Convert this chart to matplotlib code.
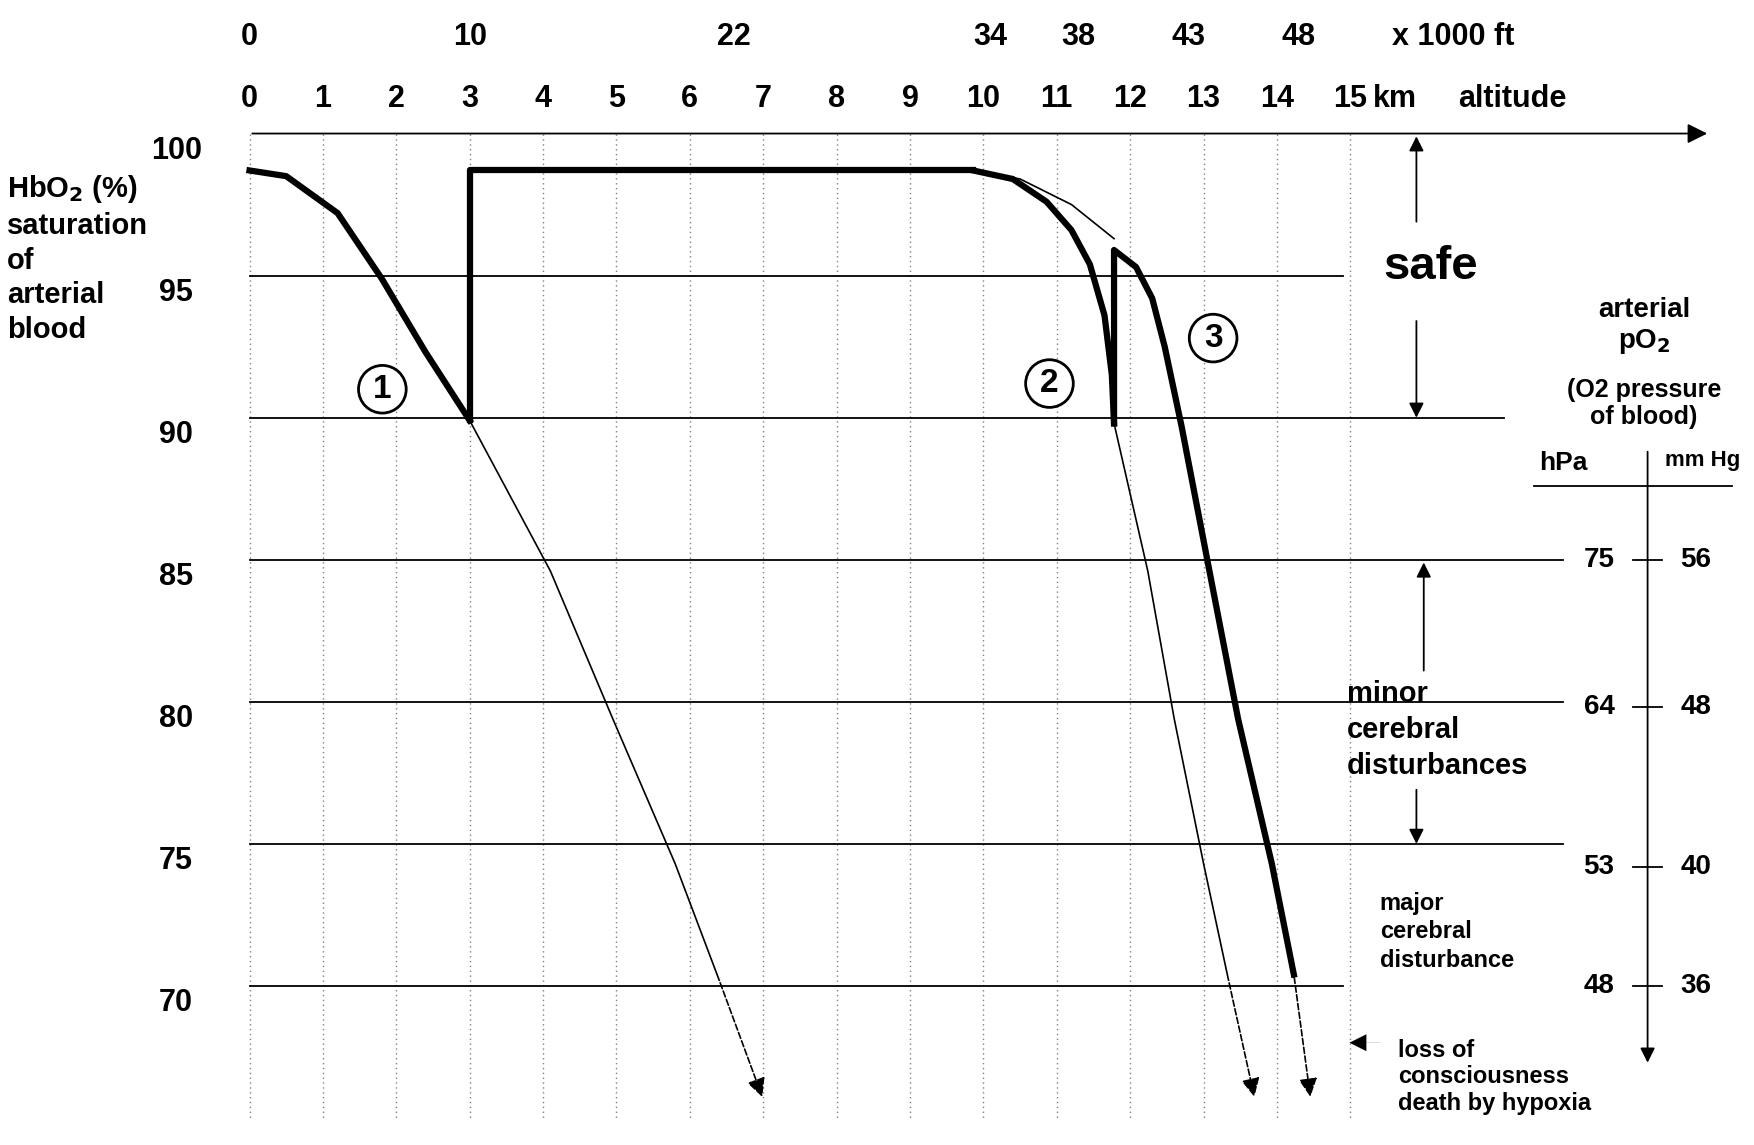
import matplotlib
matplotlib.use("Agg")
import matplotlib.pyplot as plt
import numpy as np

plt.rcParams['font.family'] = ['Liberation Sans', 'DejaVu Sans']
plt.rcParams['font.weight'] = 'bold'

km_ticks = list(range(16))
ft_pos = [0, 3, 6.6, 10.1, 11.3, 12.8, 14.3]
ft_labels = ["0", "10", "22", "34", "38", "43", "48"]
y_levels = [100, 95, 90, 85, 80, 75, 70]
hline_ends = [None, 14.9, 17.1, 17.9, 17.9, 17.9, 14.9]
hpa = ["75", "64", "53", "48"]
mmhg = ["56", "48", "40", "36"]
p_levels = [85, 79.8, 74.2, 70.0]

# curves (altitude km, saturation %)
c1_x = [0, 0.5, 1.2, 1.8, 2.4, 3.0]
c1_y = [98.7, 98.5, 97.2, 94.9, 92.3, 89.9]
plat_x = [3.0, 3.0, 9.86]
plat_y = [89.9, 98.7, 98.7]
c2_x = [9.86, 10.4, 10.86, 11.2, 11.45, 11.65, 11.75, 11.78]
c2_y = [98.7, 98.4, 97.6, 96.6, 95.4, 93.6, 91.5, 89.8]
c3_x = [11.78, 11.78, 12.08, 12.3, 12.47, 12.7, 13.08, 13.47, 13.93, 14.23]
c3_y = [89.8, 95.9, 95.3, 94.2, 92.5, 89.7, 84.6, 79.4, 74.3, 70.4]
t1_x = [3.0, 4.1, 4.95, 5.8, 6.4]
t1_y = [89.9, 84.6, 79.4, 74.3, 70.2]
t1d = ([6.4, 7.0], [70.2, 66.0])
t2_x = [9.86, 10.5, 11.2, 11.78]
t2_y = [98.7, 98.4, 97.5, 96.3]
t3_x = [11.78, 12.24, 12.6, 13.0, 13.34]
t3_y = [89.8, 84.6, 79.4, 74.3, 70.2]
t3d = ([13.34, 13.7], [70.2, 66.0])
c3d = ([14.23, 14.46], [70.4, 66.0])

fig = plt.figure(figsize=(17.54, 11.45), dpi=100)
ax = fig.add_axes([0, 0, 1, 1])
ax.set_xlim(-3.4, 20.5)
ax.set_ylim(64.4, 104.7)
ax.axis('off')

for k in km_ticks:
    ax.plot([k, k], [100, 65.3], color='gray', lw=1, ls=(0, (1, 2.5)))
    ax.text(k, 101.2, str(k), ha='center', va='center', fontsize=22)
ax.text(15.6, 101.2, "km", ha='center', va='center', fontsize=22)
ax.text(17.2, 101.2, "altitude", ha='center', va='center', fontsize=22)
for p, l in zip(ft_pos, ft_labels):
    ax.text(p, 103.4, l, ha='center', va='center', fontsize=22)
ax.text(16.4, 103.4, "x 1000 ft", ha='center', va='center', fontsize=22)

ax.annotate("", xy=(19.9, 100), xytext=(0, 100),
            arrowprops=dict(arrowstyle='-|>', color='black', lw=1.3, mutation_scale=30))
for y, e in zip(y_levels, hline_ends):
    ax.text(-1.0, y - 0.6, str(y), ha='center', va='center', fontsize=22)
    if e is not None:
        ax.plot([0, e], [y, y], color='black', lw=1.3)

ax.text(-3.3, 95.6, "HbO$_2$ (%)\nsaturation\nof\narterial\nblood", ha='left', va='center',
        fontsize=21, linespacing=1.3)

ax.plot(c1_x, c1_y, color='black', lw=4.5)
ax.plot(plat_x, plat_y, color='black', lw=4.5)
ax.plot(c2_x, c2_y, color='black', lw=4.5)
ax.plot(c3_x, c3_y, color='black', lw=4.5, solid_joinstyle='round')
for xs, ys in [(t1_x, t1_y), (t2_x, t2_y), (t3_x, t3_y)]:
    ax.plot(xs, ys, color='black', lw=1.2)
for xs, ys in [t1d, t3d, c3d]:
    ax.annotate("", xy=(xs[1], ys[1]), xytext=(xs[0], ys[0]),
                arrowprops=dict(arrowstyle='-|>', color='black', lw=1.2, ls='--', mutation_scale=28))

for x, y, s in [(1.81, 91.0, "1"), (10.9, 91.2, "2"), (13.13, 92.8, "3")]:
    ax.text(x, y, s, ha='center', va='center', fontsize=24,
            bbox=dict(boxstyle='circle,pad=0.25', fc='white', ec='black', lw=2))

ax.text(16.1, 95.3, "safe", ha='center', va='center', fontsize=34)
arr = dict(arrowstyle='-|>', color='black', lw=1.3, mutation_scale=22)
ax.annotate("", xy=(15.9, 100), xytext=(15.9, 96.8), arrowprops=arr)
ax.annotate("", xy=(15.9, 89.9), xytext=(15.9, 93.5), arrowprops=arr)

ax.text(19.0, 93.2, "arterial\npO$_2$", ha='center', va='center', fontsize=20, linespacing=1.2)
ax.text(19.0, 90.5, "(O2 pressure\nof blood)", ha='center', va='center', fontsize=18, linespacing=1.2)
ax.text(17.9, 88.4, "hPa", ha='center', va='center', fontsize=19)
ax.text(19.8, 88.5, "mm Hg", ha='center', va='center', fontsize=16)
ax.plot([17.5, 20.2], [87.6, 87.6], color='black', lw=1.3)
ax.annotate("", xy=(19.05, 67.2), xytext=(19.05, 88.9), arrowprops=arr)
for y, a, b in zip(p_levels, hpa, mmhg):
    ax.plot([18.85, 19.25], [y, y], color='black', lw=1.3)
    ax.text(18.6, y, a, ha='right', va='center', fontsize=20)
    ax.text(19.5, y, b, ha='left', va='center', fontsize=20)

ax.annotate("", xy=(16.0, 85.0), xytext=(16.0, 81.0), arrowprops=arr)
ax.text(14.95, 79.0, "minor\ncerebral\ndisturbances", ha='left', va='center', fontsize=21, linespacing=1.35)
ax.annotate("", xy=(15.9, 74.9), xytext=(15.9, 77.0), arrowprops=arr)
ax.text(15.4, 71.9, "major\ncerebral\ndisturbance", ha='left', va='center', fontsize=17, linespacing=1.3)
ax.annotate("", xy=(14.95, 68.0), xytext=(15.45, 68.0),
            arrowprops=dict(arrowstyle='-|>', color='black', lw=0.1, mutation_scale=30))
ax.text(15.65, 66.8, "loss of\nconsciousness\ndeath by hypoxia", ha='left', va='center', fontsize=17, linespacing=1.2)

fig.savefig("out.png", dpi=100, facecolor='white')
